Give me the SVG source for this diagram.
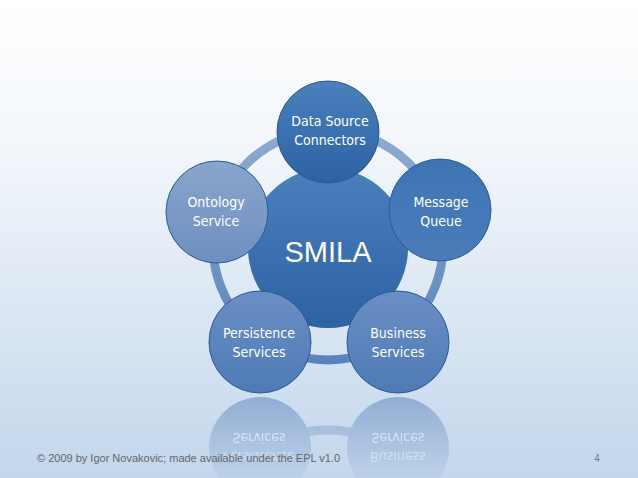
<svg xmlns="http://www.w3.org/2000/svg" width="638" height="478" viewBox="0 0 638 478">
<defs>
<linearGradient id="bg" x1="0" y1="0" x2="0" y2="1"><stop offset="0" stop-color="#ffffff"/><stop offset="0.3" stop-color="#f3f7fb"/><stop offset="1" stop-color="#c3d6ec"/></linearGradient>
<linearGradient id="dark" x1="0" y1="0" x2="0" y2="1"><stop offset="0" stop-color="#4a80bd"/><stop offset="1" stop-color="#2d62a3"/></linearGradient>
<linearGradient id="mid" x1="0" y1="0" x2="0" y2="1"><stop offset="0" stop-color="#3f74b4"/><stop offset="1" stop-color="#4a7cb9"/></linearGradient>
<linearGradient id="light" x1="0" y1="0" x2="0" y2="1"><stop offset="0" stop-color="#8aa5cc"/><stop offset="1" stop-color="#6d8fc0"/></linearGradient>
<linearGradient id="lb" x1="0" y1="0" x2="0" y2="1"><stop offset="0" stop-color="#6a8fc4"/><stop offset="1" stop-color="#4f7ab6"/></linearGradient>
<linearGradient id="ringg" x1="0" y1="0" x2="0" y2="1"><stop offset="0" stop-color="#8eaad2"/><stop offset="1" stop-color="#5b82ba"/></linearGradient>
<linearGradient id="fade" gradientUnits="userSpaceOnUse" x1="0" y1="395" x2="0" y2="312"><stop offset="0" stop-color="#fff" stop-opacity="0.5"/><stop offset="1" stop-color="#fff" stop-opacity="0.05"/></linearGradient>
<mask id="m" maskUnits="userSpaceOnUse" x="0" y="300" width="638" height="100"><rect x="0" y="312" width="638" height="83" fill="url(#fade)"/></mask>
</defs>
<style>
.n{font-family:"Liberation Sans Narrow","DejaVu Sans Condensed","Liberation Sans",sans-serif;font-stretch:condensed;font-size:14px;fill:#fff;text-anchor:middle}
.c{stroke:#2a5a96;stroke-width:1}
</style>
<rect width="638" height="478" fill="url(#bg)"/>
<g id="connectors"><circle cx="328" cy="245" r="115" fill="none" stroke="url(#ringg)" stroke-width="9"/></g>
<g id="smila"><circle cx="328" cy="248" r="80" fill="url(#dark)"/><text x="328" y="254" font-family="Liberation Sans,Arial,sans-serif" font-size="29" fill="#fff" text-anchor="middle" dy="8">SMILA</text></g>
<g id="data-source"><circle cx="328" cy="132" r="51" fill="url(#dark)" class="c"/><text class="n" x="330" y="126">Data Source</text><text class="n" x="330" y="145">Connectors</text></g>
<g id="message-queue"><circle cx="440" cy="210" r="51" fill="url(#mid)" class="c"/><text class="n" x="441" y="207">Message</text><text class="n" x="441" y="226">Queue</text></g>
<g id="business"><circle cx="398" cy="342" r="51" fill="url(#lb)" class="c"/><text class="n" x="398" y="338">Business</text><text class="n" x="398" y="357">Services</text></g>
<g id="persistence"><circle cx="260" cy="342" r="51" fill="url(#lb)" class="c"/><text class="n" x="259" y="338">Persistence</text><text class="n" x="259" y="357">Services</text></g>
<g id="ontology"><circle cx="217" cy="212" r="51" fill="url(#light)" class="c"/><text class="n" x="216" y="207">Ontology</text><text class="n" x="216" y="226">Service</text></g>
<g id="reflection" transform="translate(0,790) scale(1,-1)">
<g mask="url(#m)">
<circle cx="328" cy="245" r="115" fill="none" stroke="#5b82ba" stroke-width="9"/>
<circle cx="260" cy="342" r="51" fill="#4f7ab6"/><circle cx="398" cy="342" r="51" fill="#4f7ab6"/>
<text class="n" x="259" y="338">Persistence</text><text class="n" x="259" y="357">Services</text>
<text class="n" x="398" y="338">Business</text><text class="n" x="398" y="357">Services</text>
</g>
</g>
<text x="37" y="462" font-family="Liberation Sans,Arial,sans-serif" font-size="11" fill="#666">© 2009 by Igor Novakovic; made available under the EPL v1.0</text>
<text x="597" y="462" font-family="Liberation Sans,Arial,sans-serif" font-size="10" fill="#777" text-anchor="middle">4</text>
</svg>
